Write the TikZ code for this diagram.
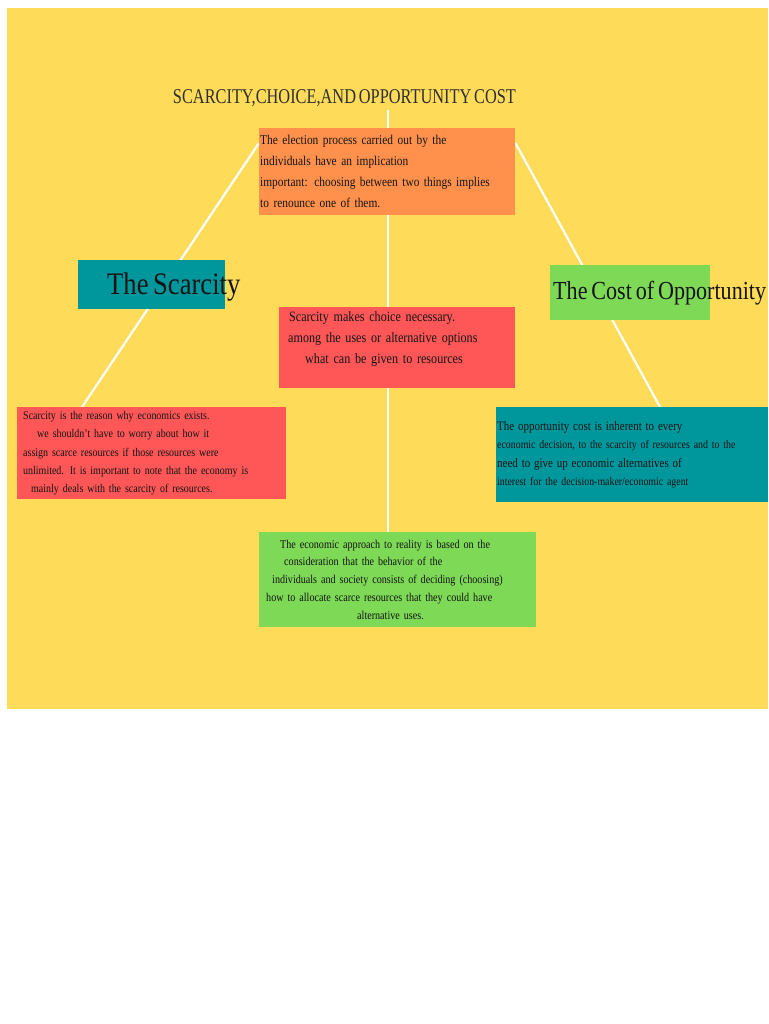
\documentclass[tikz,border=0pt]{standalone}
\usepackage{graphicx}
\usepackage{fontspec}
\setmainfont{Liberation Serif}[FakeStretch=0.85, WordSpace=0.7]
\usepackage{tikz}
\usetikzlibrary{positioning,backgrounds,calc}
\usepackage{xcolor}
\definecolor{sunny}{HTML}{FEDB58}
\definecolor{peach}{HTML}{FF914D}
\definecolor{coral}{HTML}{FF5757}
\definecolor{lime}{HTML}{7ED957}
\definecolor{lagoon}{HTML}{00979C}
\definecolor{ink}{HTML}{141414}
\definecolor{slate}{HTML}{2E2E2E}
\pgfdeclarelayer{links}
\pgfsetlayers{background,links,main}

\begin{document}
\begin{tikzpicture}[x=1pt, y=-1pt,
    panel/.style={rectangle, anchor=north west, inner ysep=0pt, align=left, text=ink},
    caption/.style={anchor=base west, inner sep=0pt, text=ink},
    link/.style={white, line width=2.2pt}]
  \useasboundingbox (0,0) rectangle (768,1024);
  \begin{scope}[on background layer]
    \fill[white] (0,0) rectangle (768,1024);
    \fill[sunny] (7,8) rectangle (768,709);
  \end{scope}
  % title
  \node[anchor=base, inner sep=0pt, text=slate, font=\fontsize{21}{21}\selectfont] (title) at (344.5,104)
    {\resizebox{343pt}{\height}{SCARCITY,CHOICE,AND OPPORTUNITY COST}};
  % boxes
  \node[panel, fill=peach, text width=254pt, inner xsep=1pt, minimum height=87pt,
        font=\fontsize{13.4}{21}\selectfont] (elect) at (259,128)
    {The election process carried out by the\\
     individuals have an implication\\
     important: choosing between two things implies\\
     to renounce one of them.};
  \node[panel, fill=lagoon, minimum width=147pt, minimum height=49pt] (scarce) at (78,260) {};
  \node[caption, font=\fontsize{31.3}{32}\selectfont] (scarcetxt) at (107,294) {The Scarcity};
  \node[panel, fill=lime, minimum width=160pt, minimum height=55pt] (cost) at (550,265) {};
  \node[caption, font=\fontsize{26}{27}\selectfont] (costtxt) at (553,299) {The Cost of Opportunity};
  \node[panel, fill=coral, text width=218pt, inner xsep=9pt, minimum height=81pt,
        font=\fontsize{14.25}{21}\selectfont] (choice) at (279,307)
    {\hspace*{1pt}Scarcity makes choice necessary.\\
     among the uses or alternative options\\
     \hspace*{17pt}what can be given to resources\\
     \mbox{}};
  \node[panel, fill=coral, text width=257pt, inner xsep=6pt, minimum height=92pt,
        font=\fontsize{11.75}{18.3}\selectfont] (reason) at (17,407)
    {Scarcity is the reason why economics exists.\\
     \hspace*{14pt}we shouldn't have to worry about how it\\
     assign scarce resources if those resources were\\
     unlimited. It is important to note that the economy is\\
     \hspace*{8pt}mainly deals with the scarcity of resources.};
  \node[panel, fill=lagoon, text width=270pt, inner xsep=1pt, minimum height=95pt,
        font=\fontsize{11.6}{18.3}\selectfont] (oppcost) at (496,407)
    {{\fontsize{12.9}{18.3}\selectfont The opportunity cost is inherent to every}\\
     economic decision, to the scarcity of resources and to the\\
     {\fontsize{12.9}{18.3}\selectfont need to give up economic alternatives of}\\
     interest for the decision-maker/economic agent};
  \node[panel, fill=lime, text width=263pt, inner xsep=7pt, minimum height=95pt,
        font=\fontsize{11.9}{17.8}\selectfont] (approach) at (259,532)
    {\hspace*{14pt}The economic approach to reality is based on the\\
     \hspace*{18pt}consideration that the behavior of the\\
     \hspace*{6pt}individuals and society consists of deciding (choosing)\\
     how to allocate scarce resources that they could have\\
     \hspace*{91pt}alternative uses.};
  % white connectors behind the boxes
  \begin{pgfonlayer}{links}
    \coordinate (spine) at (388,110);
    \draw[link] (spine) -- (spine |- approach.north);
    \draw[link] ([yshift=-15pt]elect.north west) -- ([xshift=65pt]reason.north west);
    \draw[link] ([yshift=-15pt]elect.north east) -- ([xshift=164pt]oppcost.north west);
  \end{pgfonlayer}
\end{tikzpicture}
\end{document}
